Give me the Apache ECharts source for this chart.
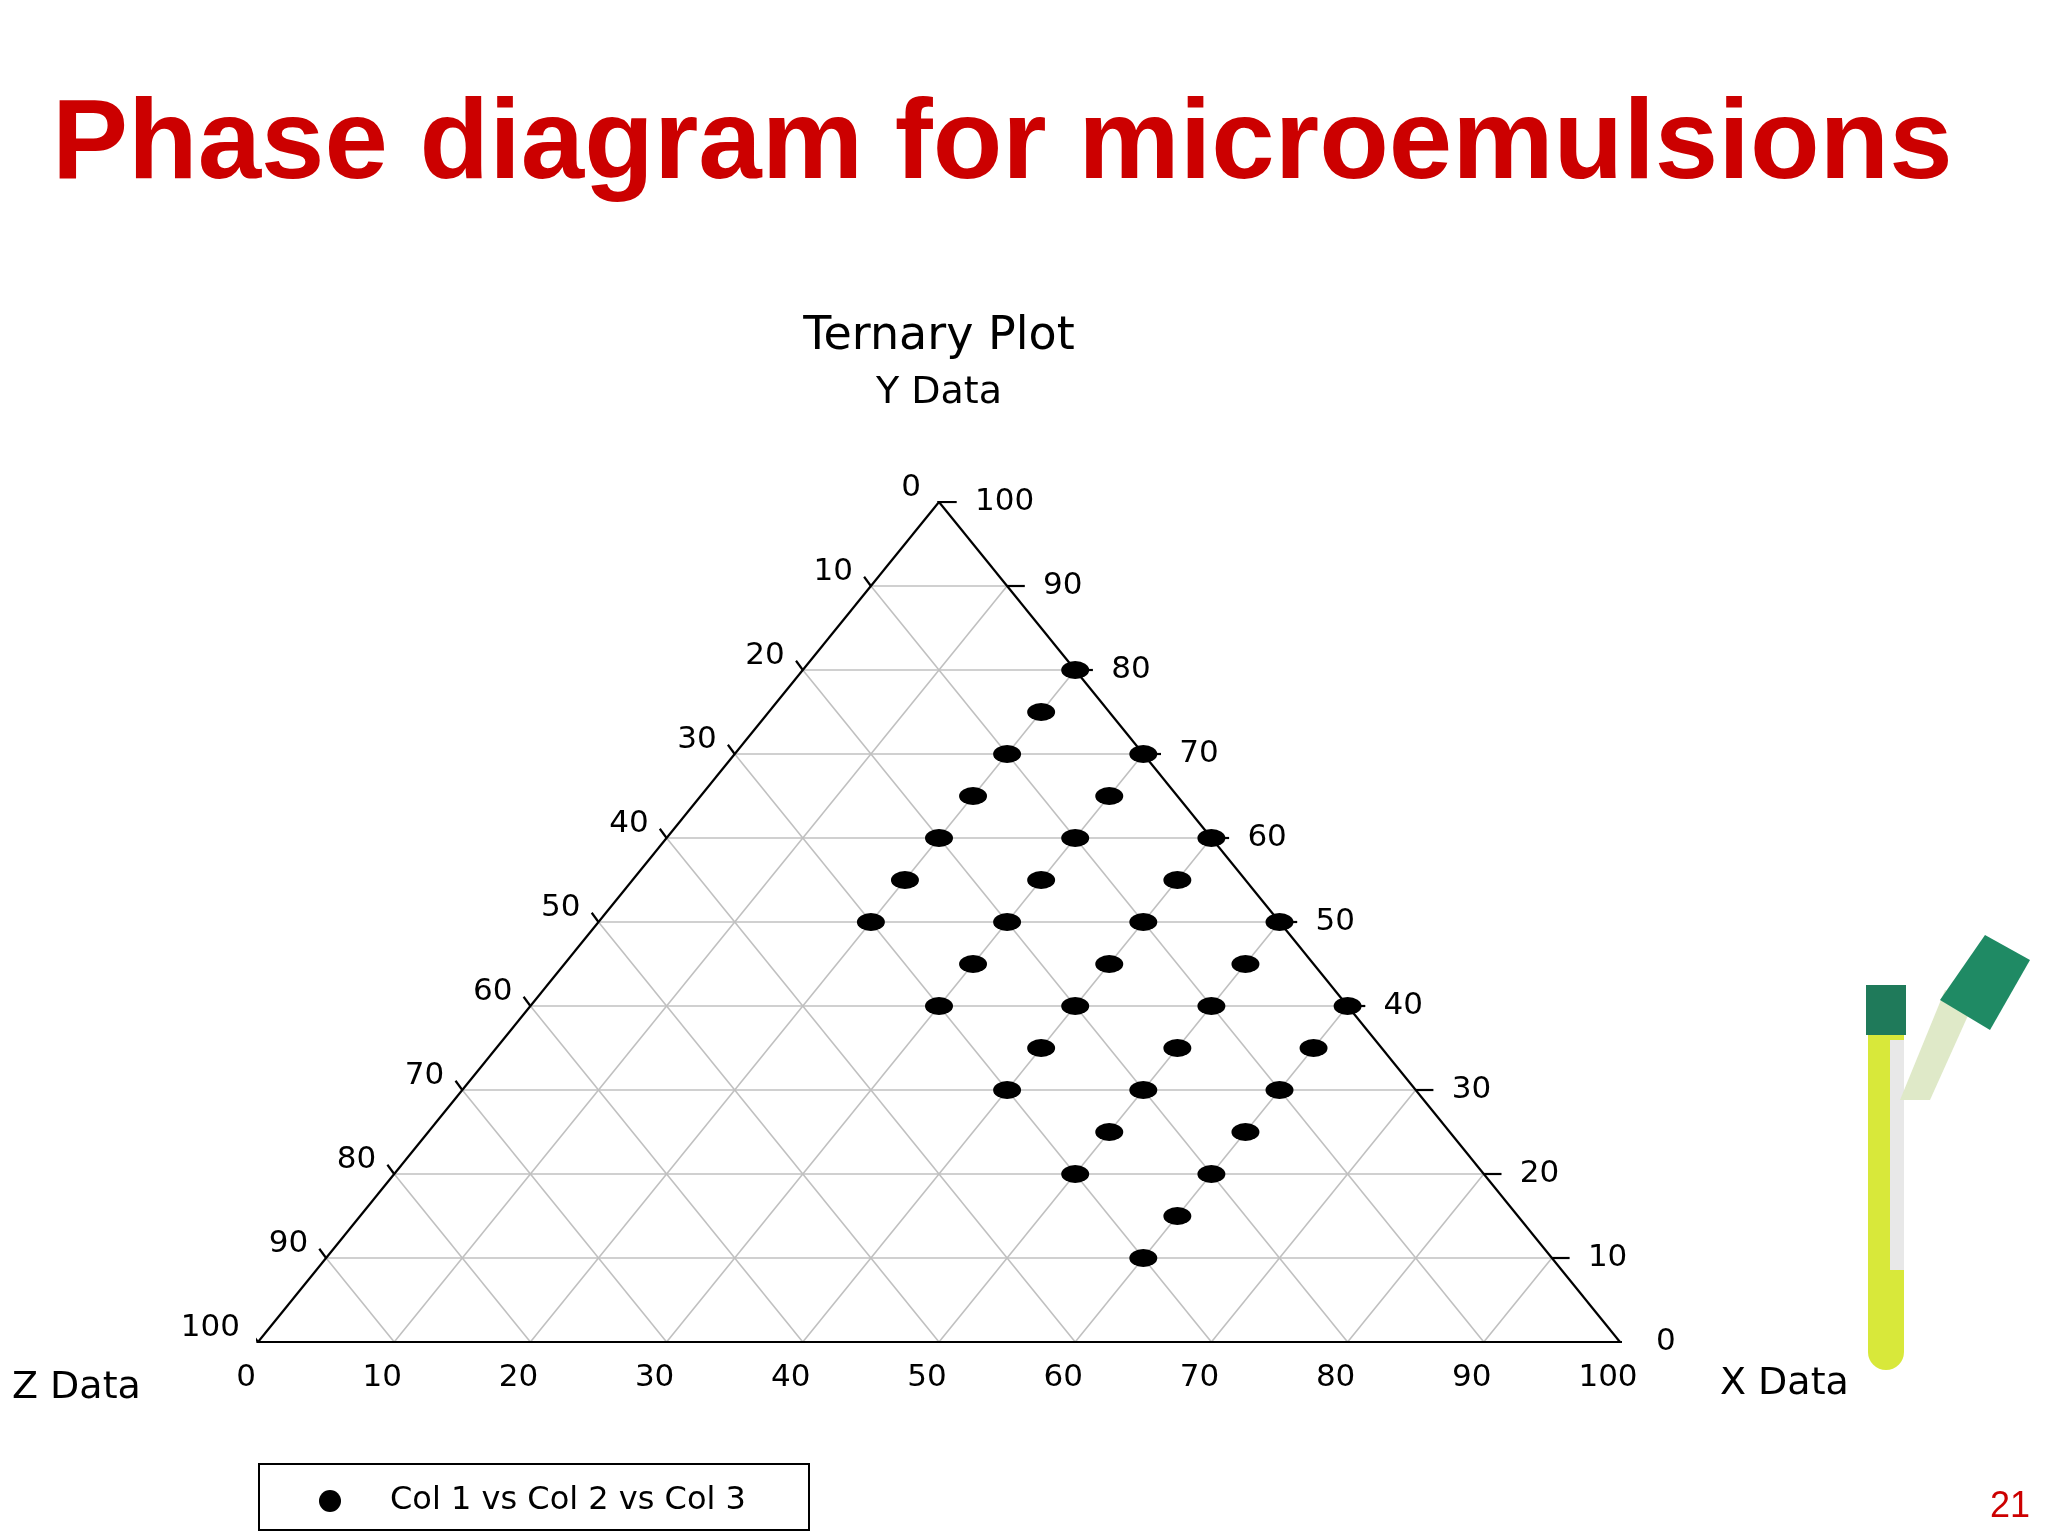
<!DOCTYPE html>
<html>
<head>
<meta charset="utf-8">
<script src="https://cdn.jsdelivr.net/npm/echarts@6/dist/echarts.min.js"></script>
<style>html,body{margin:0;padding:0;background:#fff}#main{width:2048px;height:1536px}</style>
</head>
<body>
<div id="main"></div>
<script>
// ternary data (percent)
const colX = [20, 20, 20, 30, 20, 30, 20, 30, 40, 20, 30, 40, 20, 30, 40, 50, 30, 40, 50, 30, 40, 50, 60, 40, 50, 60, 40, 50, 60, 50, 60, 50, 60, 60, 60];
const colY = [80, 75, 70, 70, 65, 65, 60, 60, 60, 55, 55, 55, 50, 50, 50, 50, 45, 45, 45, 40, 40, 40, 40, 35, 35, 35, 30, 30, 30, 25, 25, 20, 20, 15, 10];
const colZ = colX.map((x, i) => 100 - x - colY[i]);
const ticks = [0, 10, 20, 30, 40, 50, 60, 70, 80, 90, 100];

const chart = echarts.init(document.getElementById('main'));

// ternary -> plane (h along bottom, v up)
function tp(x, y) { return [x + y / 2, y]; }

const gray = { color: '#c0c0c0', width: 1.6 };
const black = { color: '#000', width: 2.2 };
const series = [];
function seg(a, b, style) {
  series.push({ type: 'line', data: [a, b], symbol: 'none', silent: true, lineStyle: style, z: style === gray ? 1 : 3 });
}

// grid lines
ticks.slice(1, -1).forEach(t => {
  seg(tp(0, t), tp(100 - t, t), gray);          // Y = t
  seg(tp(t, 0), tp(t, 100 - t), gray);          // X = t
  seg(tp(100 - t, 0), tp(0, 100 - t), gray);    // Z = t
});
// edges
seg(tp(0, 0), tp(100, 0), black);
seg(tp(100, 0), tp(0, 100), black);
seg(tp(0, 100), tp(0, 0), black);
// tick marks
ticks.forEach(t => {
  const b = tp(t, 0); seg(b, [b[0] - 0.4, -1.1], black);
  const r = tp(100 - t, t); seg(r, [r[0] + 1.3, r[1]], black);
  const l = tp(0, 100 - t); seg(l, [l[0] - 0.5, l[1] + 1.1], black);
});

const FONT = '"DejaVu Sans", Verdana, sans-serif';
const lblFont = { fontFamily: FONT, fontSize: 31, color: '#000' };
function labels(pts, offset, align) {
  series.push({
    type: 'scatter', symbolSize: 0, silent: true, data: pts,
    itemStyle: { opacity: 1 },
    label: { show: true, formatter: p => p.data[2], offset: offset, align: align, verticalAlign: 'middle', ...lblFont }
  });
}
labels(ticks.map(t => [...tp(t, 0), String(t)]), [-12, 36], 'center');
labels(ticks.map(t => [...tp(100 - t, t), String(t)]), [36, 0], 'left');
labels(ticks.map(t => [...tp(0, 100 - t), String(t)]), [-18, -14], 'right');

// data points
series.push({
  name: 'Col 1 vs Col 2 vs Col 3',
  type: 'scatter', symbol: 'circle', symbolSize: [28, 18], z: 5,
  itemStyle: { color: '#000', opacity: 1 },
  data: colX.map((x, i) => tp(x, colY[i]))
});

chart.setOption({
  animation: false,
  backgroundColor: '#fff',
  grid: { left: 258, right: 428, top: 502, bottom: 194 },
  xAxis: { type: 'value', min: 0, max: 100, show: false },
  yAxis: { type: 'value', min: 0, max: 100, show: false },
  legend: {
    data: ['Col 1 vs Col 2 vs Col 3'], left: 314, top: 1480, icon: 'circle',
    itemWidth: 22, itemHeight: 22, itemGap: 10,
    textStyle: { fontFamily: FONT, fontSize: 32, color: '#000', padding: [0, 0, 0, 44] }
  },
  graphic: [
    { type: 'text', left: 52, top: 90, style: { text: 'Phase diagram for microemulsions', font: 'bold 114px "Liberation Sans", Arial', fill: '#cc0000' } },
    { type: 'text', x: 939, y: 337, style: { text: 'Ternary Plot', font: '46px ' + FONT, fill: '#000', align: 'center', verticalAlign: 'middle' } },
    { type: 'text', x: 939, y: 393, style: { text: 'Y Data', font: '38px ' + FONT, fill: '#000', align: 'center', verticalAlign: 'middle' } },
    { type: 'text', x: 12, y: 1388, style: { text: 'Z Data', font: '38px ' + FONT, fill: '#000', verticalAlign: 'middle' } },
    { type: 'text', x: 1720, y: 1384, style: { text: 'X Data', font: '38px ' + FONT, fill: '#000', verticalAlign: 'middle' } },
    { type: 'rect', shape: { x: 259, y: 1464, width: 550, height: 66 }, style: { fill: 'none', stroke: '#000', lineWidth: 2 } },
    { type: 'text', x: 2030, y: 1507, style: { text: '21', font: '36px "Liberation Sans", Arial', fill: '#cc0000', align: 'right', verticalAlign: 'middle' } },
    // test tubes decoration
    { type: 'rect', shape: { x: 1868, y: 1000, width: 36, height: 370, r: [0, 0, 18, 18] }, style: { fill: '#d8e83a' } },
    { type: 'rect', shape: { x: 1866, y: 985, width: 40, height: 50 }, style: { fill: '#1f7a5a' } },
    { type: 'rect', shape: { x: 1890, y: 1040, width: 14, height: 230 }, style: { fill: '#e8e8e8' } },
    { type: 'polygon', shape: { points: [[1900, 1100], [1930, 1100], [1975, 1000], [1945, 990]] }, style: { fill: '#dfe9c8' } },
    { type: 'polygon', shape: { points: [[1940, 1000], [1990, 1030], [2030, 960], [1985, 935]] }, style: { fill: '#1f8a64' } }
  ],
  series: series
});
</script>
</body>
</html>
